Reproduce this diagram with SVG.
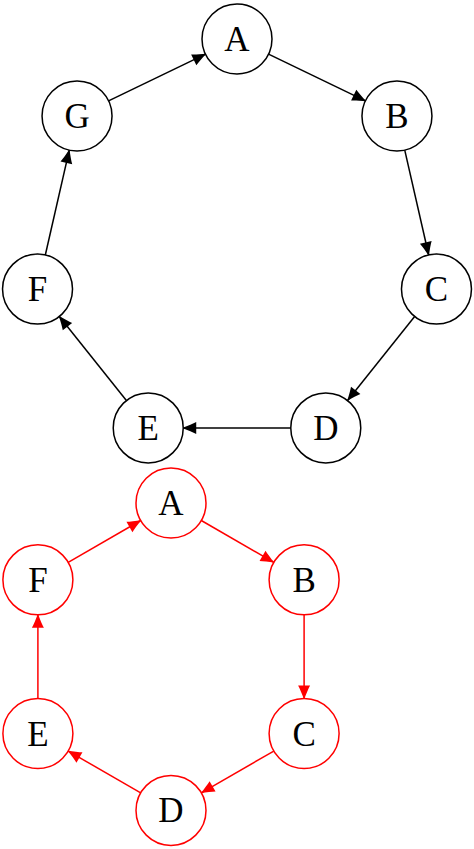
<svg xmlns="http://www.w3.org/2000/svg" width="474" height="849" viewBox="0 0 474 849">
<defs>
<style>
.n circle{fill:#fff;stroke-width:1.5}
.n text{font-family:"Liberation Serif","Times New Roman",serif;font-size:35px;text-anchor:middle;fill:#000}
.k circle{stroke:#000}
.r circle{stroke:#ff0000}
.e line{stroke-width:1.5;fill:none}
.ek line{stroke:#000;marker-end:url(#ak)}
.er line{stroke:#ff0000;marker-end:url(#ar)}
</style>
<marker id="ak" viewBox="-16 -8 18 16" refX="0" refY="0" markerWidth="18" markerHeight="16" markerUnits="userSpaceOnUse" orient="auto" overflow="visible">
<path d="M1,0 C-5,-2.2 -10,-4.4 -13,-6 L-13,6 C-10,4.4 -5,2.2 1,0 Z" fill="#000"/>
</marker>
<marker id="ar" viewBox="-16 -8 18 16" refX="0" refY="0" markerWidth="18" markerHeight="16" markerUnits="userSpaceOnUse" orient="auto" overflow="visible">
<path d="M1,0 C-5,-2.2 -10,-4.4 -13,-6 L-13,6 C-10,4.4 -5,2.2 1,0 Z" fill="#ff0000"/>
</marker>
</defs>
<g id="connectors">
<g class="e ek">
<line x1="268.54" y1="54.18" x2="365.42" y2="100.82"/>
<line x1="404.75" y1="150.13" x2="428.68" y2="254.97"/>
<line x1="414.64" y1="316.47" x2="347.6" y2="400.53"/>
<line x1="290.77" y1="427.9" x2="183.23" y2="427.9"/>
<line x1="126.4" y1="400.53" x2="59.36" y2="316.47"/>
<line x1="45.32" y1="254.97" x2="69.25" y2="150.13"/>
<line x1="108.58" y1="100.82" x2="205.46" y2="54.18"/>
</g>
<g class="e er">
<line x1="201.31" y1="520.5" x2="273.79" y2="562.35"/>
<line x1="304.1" y1="614.85" x2="304.1" y2="698.55"/>
<line x1="273.79" y1="751.05" x2="201.31" y2="792.9"/>
<line x1="140.69" y1="792.9" x2="68.21" y2="751.05"/>
<line x1="37.9" y1="698.55" x2="37.9" y2="614.85"/>
<line x1="68.21" y1="562.35" x2="140.69" y2="520.5"/>
</g>
</g>
<g id="top-A" class="n k"><circle cx="237" cy="39" r="35"/><text x="237" y="51">A</text></g>
<g id="top-B" class="n k"><circle cx="396.96" cy="116" r="35"/><text x="396.96" y="128">B</text></g>
<g id="top-C" class="n k"><circle cx="436.47" cy="289.1" r="35"/><text x="436.47" y="301.1">C</text></g>
<g id="top-D" class="n k"><circle cx="325.77" cy="427.9" r="35"/><text x="325.77" y="439.9">D</text></g>
<g id="top-E" class="n k"><circle cx="148.23" cy="427.9" r="35"/><text x="148.23" y="439.9">E</text></g>
<g id="top-F" class="n k"><circle cx="37.53" cy="289.1" r="35"/><text x="37.53" y="301.1">F</text></g>
<g id="top-G" class="n k"><circle cx="77.04" cy="116" r="35"/><text x="77.04" y="128">G</text></g>
<g id="bot-A" class="n r"><circle cx="171" cy="503" r="35"/><text x="171" y="515">A</text></g>
<g id="bot-B" class="n r"><circle cx="304.1" cy="579.85" r="35"/><text x="304.1" y="591.85">B</text></g>
<g id="bot-C" class="n r"><circle cx="304.1" cy="733.55" r="35"/><text x="304.1" y="745.55">C</text></g>
<g id="bot-D" class="n r"><circle cx="171" cy="810.4" r="35"/><text x="171" y="822.4">D</text></g>
<g id="bot-E" class="n r"><circle cx="37.9" cy="733.55" r="35"/><text x="37.9" y="745.55">E</text></g>
<g id="bot-F" class="n r"><circle cx="37.9" cy="579.85" r="35"/><text x="37.9" y="591.85">F</text></g>
</svg>
